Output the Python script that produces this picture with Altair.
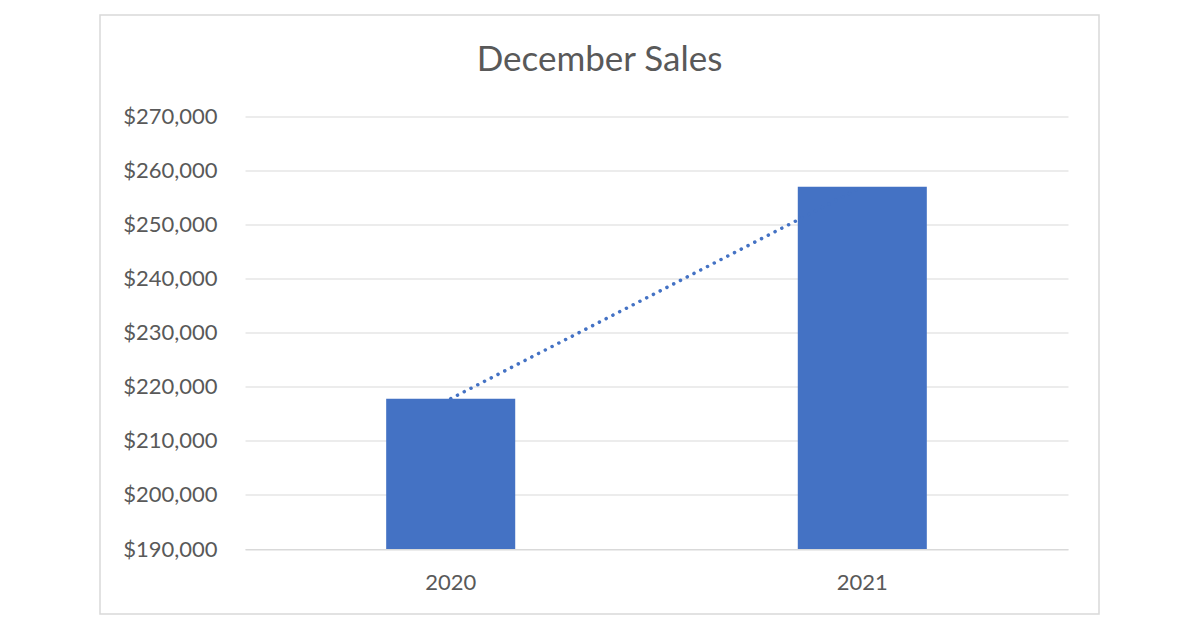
import altair as alt
import pandas as pd

years = ["2020", "2021"]
sales = [217800, 257000]
tick_values = [190000, 200000, 210000, 220000, 230000, 240000, 250000, 260000, 270000]
title_text = "December Sales"

df = pd.DataFrame({"year": years, "sales": sales})

FONT = "Lato"
GRAY = "#595959"
GRID = "#D9D9D9"

x_enc = alt.X(
    "year:N",
    scale=alt.Scale(paddingInner=0.6865, paddingOuter=0.343),
    axis=alt.Axis(
        title=None, labelAngle=0, ticks=False, domainColor=GRID, domainWidth=1.2,
        labelFont=FONT, labelFontSize=22, labelColor=GRAY,
        labelBaseline="alphabetic", labelPadding=40, grid=False,
    ),
)
y_scale = alt.Scale(domain=[tick_values[0], tick_values[-1]], nice=False, zero=False)
y_enc = alt.Y(
    "sales:Q",
    scale=y_scale,
    axis=alt.Axis(
        title=None, values=tick_values, format="$,.0f", ticks=False, domain=False,
        gridColor=GRID, gridWidth=1.2, labelFont=FONT, labelFontSize=22,
        labelColor=GRAY, labelPadding=28,
    ),
)

frame = alt.Chart(alt.Data(values=[{"a": 1}])).mark_rect(
    fill="white", fillOpacity=0, stroke=GRID, strokeWidth=1.5
).encode(
    x=alt.value(-145), x2=alt.value(854), y=alt.value(-101.5), y2=alt.value(497.5)
)

title = alt.Chart(alt.Data(values=[{"t": title_text}])).mark_text(
    font=FONT, fontSize=35, color=GRAY, align="center", baseline="alphabetic"
).encode(x=alt.value(354.5), y=alt.value(-45.5), text="t:N")

bars = alt.Chart(df).mark_bar(color="#4472C4").encode(
    x=x_enc, y=y_enc, y2=alt.datum(tick_values[0])
)

trend = alt.Chart(df).mark_line(
    color="#4472C4", strokeWidth=3.5, strokeDash=[0.1, 7.5], strokeCap="round"
).encode(x=x_enc, y=y_enc)

chart = alt.layer(frame, bars, trend, title).properties(
    width=823, height=432.5,
    background="white",
    autosize=alt.AutoSizeParams(type="none"),
    padding={"left": 237, "top": 108.5, "right": 124, "bottom": 70},
).configure_view(stroke="transparent", strokeWidth=0)

chart.save("out.html", embed_options={"renderer": "svg", "actions": False})
